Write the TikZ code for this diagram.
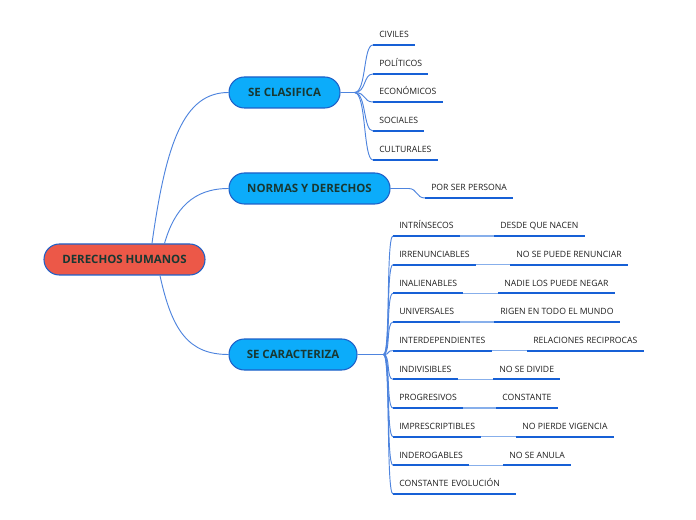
\documentclass[tikz,border=0pt]{standalone}
\usepackage{fontspec}
\setmainfont{Open Sans}
\usepackage{xcolor}
\usepackage{tikz}
\usetikzlibrary{positioning,calc}
\definecolor{rootred}{RGB}{236,88,72}
\definecolor{subcyan}{RGB}{12,172,250}
\definecolor{edgeblue}{RGB}{30,96,200}
\definecolor{linkblue}{RGB}{78,132,222}
\definecolor{lineblue}{RGB}{22,96,214}
\definecolor{paleblue}{RGB}{135,175,235}
\definecolor{titlegreen}{RGB}{24,56,50}
\definecolor{leafgray}{RGB}{30,30,30}
\tikzset{
  mm_root/.style={
    draw=edgeblue, fill=rootred, line width=0.8pt, rounded corners=11.5pt,
    minimum width=120.75pt, minimum height=23.25pt, inner sep=2pt,
    text=titlegreen, font=\fontsize{8.6}{10}\selectfont\bfseries
  },
  mm_main/.style={
    draw=edgeblue, fill=subcyan, line width=0.8pt, rounded corners=11.5pt,
    minimum height=23.25pt, inner sep=2pt,
    text=titlegreen, font=\fontsize{8.6}{10}\selectfont\bfseries
  },
  mm_leaf/.style={
    anchor=south west, inner xsep=4.5pt, inner ysep=4pt,
    text height=5pt, text depth=1.2pt,
    text=leafgray, font=\fontsize{6.5}{7.5}\selectfont
  },
  mm_link/.style={draw=linkblue, line width=0.7pt},
  mm_uline/.style={draw=lineblue, line width=1.4pt},
  mm_pair/.style={draw=paleblue, line width=1pt},
}
\begin{document}
\begin{tikzpicture}[x=0.75pt, y=-0.75pt]
\useasboundingbox (0,0) rectangle (696,520);

% Central topic and main branches
\node[mm_root] (root) at (124.5,259.5) {DERECHOS HUMANOS};
\node[mm_main, minimum width=83.25pt]  (clas) at (284.5,92.5)  {SE CLASIFICA};
\node[mm_main, minimum width=120.75pt] (norm) at (309.5,188.5) {NORMAS Y DERECHOS};
\node[mm_main, minimum width=96pt]     (cara) at (293,354.5)   {SE CARACTERIZA};

% Clasificacion
\node[mm_leaf] (civ) at (373,45)  {CIVILES};
\node[mm_leaf] (pol) at (373,74)  {POLÍTICOS};
\node[mm_leaf] (eco) at (373,102) {ECONÓMICOS};
\node[mm_leaf] (soc) at (373,131) {SOCIALES};
\node[mm_leaf] (cul) at (373,160) {CULTURALES};

% Normas
\node[mm_leaf] (pers) at (425,198) {POR SER PERSONA};

% Caracteristicas
\node[mm_leaf] (intr) at (393,236) {INTRÍNSECOS};
\node[mm_leaf] (irre) at (393,264.7) {IRRENUNCIABLES};
\node[mm_leaf] (inal) at (393,293.3) {INALIENABLES};
\node[mm_leaf] (univ) at (393,322) {UNIVERSALES};
\node[mm_leaf] (inte) at (393,350.7) {INTERDEPENDIENTES};
\node[mm_leaf] (indi) at (393,379.3) {INDIVISIBLES};
\node[mm_leaf] (prog) at (393,408) {PROGRESIVOS};
\node[mm_leaf] (impr) at (393,436.7) {IMPRESCRIPTIBLES};
\node[mm_leaf] (inde) at (393,465.3) {INDEROGABLES};
\node[mm_leaf, text width=82.5pt] (evol) at (393,494) {CONSTANTE EVOLUCIÓN};

% Explanations
\node[mm_leaf] (nacen)  at (494,236)   {DESDE QUE NACEN};
\node[mm_leaf] (renun)  at (510,264.7) {NO SE PUEDE RENUNCIAR};
\node[mm_leaf] (negar)  at (498,293.3) {NADIE LOS PUEDE NEGAR};
\node[mm_leaf] (mundo)  at (494,322)   {RIGEN EN TODO EL MUNDO};
\node[mm_leaf] (recip)  at (527,350.7) {RELACIONES RECIPROCAS};
\node[mm_leaf] (divide) at (493,379.3) {NO SE DIVIDE};
\node[mm_leaf] (const)  at (496,408)   {CONSTANTE};
\node[mm_leaf] (vigen)  at (516,436.7) {NO PIERDE VIGENCIA};
\node[mm_leaf] (anula)  at (503,465.3) {NO SE ANULA};

% Underlines
\foreach \n in {civ,pol,eco,soc,cul,pers,intr,irre,inal,univ,inte,indi,prog,impr,inde,evol,
                nacen,renun,negar,mundo,recip,divide,const,vigen,anula}
  \draw[mm_uline] (\n.south west) -- (\n.south east);

% Root branches
\draw[mm_link] ([xshift=20.6pt]root.north) .. controls +(14,-100) and +(-45,0) .. (clas.west);
\draw[mm_link] ([xshift=30pt]root.north)   .. controls +(10,-35) and +(-35,0) .. (norm.west);
\draw[mm_link] ([xshift=26.6pt]root.south) .. controls +(12,55) and +(-40,0) .. (cara.west);

% Clasificacion fan
\draw[mm_link] (clas.east) -- ++(14,0) coordinate (clashub);
\foreach \n in {civ,pol,eco,soc,cul}
  \draw[mm_link] (clashub) .. controls +(12,0) and +(-10,0) .. (\n.south west);

% Normas
\draw[mm_link] (norm.east) -- ++(18,0) .. controls +(9,0) and +(-9,0) .. (pers.south west);

% Caracteristicas fan
\draw[mm_link] (cara.east) -- ++(26,0) coordinate (carahub);
\foreach \n in {intr,irre,inal,univ,inte,indi,prog,impr,inde,evol}
  \draw[mm_link] (carahub) .. controls +(7,0) and +(-7,0) .. (\n.south west);

% Pairs
\draw[mm_pair] (intr.south east) -- (nacen.south west);
\draw[mm_pair] (irre.south east) -- (renun.south west);
\draw[mm_pair] (inal.south east) -- (negar.south west);
\draw[mm_pair] (univ.south east) -- (mundo.south west);
\draw[mm_pair] (inte.south east) -- (recip.south west);
\draw[mm_pair] (indi.south east) -- (divide.south west);
\draw[mm_pair] (prog.south east) -- (const.south west);
\draw[mm_pair] (impr.south east) -- (vigen.south west);
\draw[mm_pair] (inde.south east) -- (anula.south west);

\end{tikzpicture}
\end{document}
